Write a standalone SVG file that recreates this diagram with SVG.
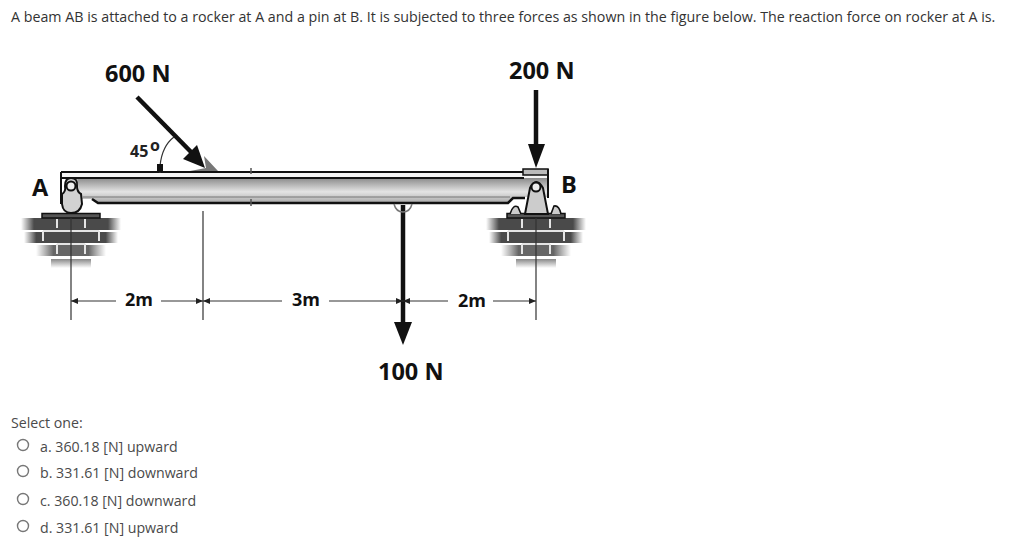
<svg xmlns="http://www.w3.org/2000/svg" width="1024" height="546" viewBox="0 0 1024 546">
<defs>
<style>
.q{font-family:"Open Sans","DejaVu Sans",sans-serif;font-size:14.25px;fill:#333}
.o{font-family:"Open Sans","DejaVu Sans",sans-serif;font-size:14.2px;fill:#4a4a4a}
.l{font-family:"Open Sans","Noto Sans",sans-serif;font-weight:700;fill:#111;font-size:23.500px}
.m{font-family:"Open Sans","Noto Sans",sans-serif;font-weight:700;fill:#111;font-size:18px}
.r{fill:#fff;stroke:#777;stroke-width:1.4}
.dim{stroke:#333;stroke-width:1.2;fill:none}
.dimt{fill:#222}
.force{stroke:#111;stroke-width:4.5;fill:none}
.edge{stroke:#111;stroke-width:2;fill:none}
.mortar{stroke:#e4e4e4;stroke-width:2;fill:none}
</style>
<linearGradient id="web" x1="0" y1="0" x2="0" y2="1">
<stop offset="0" stop-color="#8a8a8a"/><stop offset=".55" stop-color="#e4e4e4"/><stop offset="1" stop-color="#a8a8a8"/>
</linearGradient>
<linearGradient id="row" x1="0" y1="0" x2="1" y2="0">
<stop offset="0" stop-color="#555" stop-opacity="0"/><stop offset=".13" stop-color="#4a4a4a"/><stop offset=".87" stop-color="#4a4a4a"/><stop offset="1" stop-color="#555" stop-opacity="0"/>
</linearGradient>
<linearGradient id="row2" x1="0" y1="0" x2="1" y2="0">
<stop offset="0" stop-color="#777" stop-opacity="0"/><stop offset=".25" stop-color="#666"/><stop offset=".75" stop-color="#666"/><stop offset="1" stop-color="#777" stop-opacity="0"/>
</linearGradient>
<linearGradient id="under" x1="0" y1="0" x2="0" y2="1">
<stop offset="0" stop-color="#888"/><stop offset="1" stop-color="#888" stop-opacity="0"/>
</linearGradient>
<g id="ground">
<rect x="-50" y="0" width="100" height="12" fill="url(#row)"/>
<rect x="-47" y="14" width="94" height="11" fill="url(#row)"/>
<rect x="-35" y="27" width="70" height="11" fill="url(#row2)"/>
<rect x="-20" y="41" width="40" height="9" fill="url(#under)"/>
<path class="mortar" d="M-14 1v9M14 1v9M-28 13v10M28 13v10M-28 13h56M-14 26h28M-14 26v10M14 26v10"/>
</g>
</defs>
<rect width="1024" height="546" fill="#fff"/>
<g id="question">
<text class="q" x="11" y="22">A beam AB is attached to a rocker at A and a pin at B. It is subjected to three forces as shown in the figure below. The reaction force on rocker at A is.</text>
</g>
<g id="support-A">
<use href="#ground" x="71" y="218"/>
<rect x="42" y="213.500" width="58" height="4.500" fill="#555" stroke="#111" stroke-width="1.500"/>
</g>
<g id="support-B">
<use href="#ground" x="536" y="218"/>
<rect x="507" y="213.500" width="58" height="4.500" fill="#555" stroke="#111" stroke-width="1.500"/>
</g>
<g id="beam">
<path d="M77 178H547V197H513L508 203H98L93 199H80Z" fill="url(#web)"/>
<rect x="61" y="172" width="487" height="6" fill="#f4f4f4"/>
<path class="edge" d="M61 172H524M61 178H524M61 172V204"/>
<path d="M92 199L98 203H508L513 198H525" stroke="#111" stroke-width="2.500" fill="none"/>
<path d="M83 197H510" stroke="#777" stroke-width="1" fill="none"/>
<path d="M523 169H548V175H523Z" fill="#bbb" stroke="#111" stroke-width="1.5"/>
<path class="edge" d="M548 169V198"/>
<path d="M251 168V174M251 199V206" stroke="#555" stroke-width="1.500"/>
</g>
<g id="rocker-A">
<path d="M62 204V194Q66 192 65 186Q65 178 71 178Q78 178 77 186Q77 192 81 194L82 204Q80 213 71 213Q63 213 62 204Z" fill="#d2d2d2" stroke="#111" stroke-width="2"/>
<circle cx="71" cy="186" r="4.500" fill="#eee" stroke="#111" stroke-width="2"/>
</g>
<g id="pin-B">
<path d="M525 214L530 188Q536 176 543 188L548 214Z" fill="#ccc" stroke="#111" stroke-width="2"/>
<circle cx="536" cy="187" r="4.500" fill="#eee" stroke="#111" stroke-width="2"/>
<path d="M510 214Q513 204 518 207L521 214M551 214L554 206Q559 205 561 214" fill="#ccc" stroke="#111" stroke-width="1.6"/>
</g>
<g id="labels">
<text class="l" x="105" y="81.500">600 N</text>
<text class="l" x="509" y="78.500">200 N</text>
<text class="l" x="378" y="379.500">100 N</text>
<text class="l" x="32" y="196">A</text>
<text class="l" x="561" y="193">B</text>
<text class="m" x="125" y="306">2m</text>
<text class="m" x="292" y="306">3m</text>
<text class="m" x="458" y="307">2m</text>
<text x="130" y="157" font-family="'Open Sans',sans-serif" font-weight="700" font-size="16" fill="#222">45</text>
<text x="150" y="151" font-family="'Open Sans',sans-serif" font-weight="700" font-size="16" fill="#222">o</text>
</g>
<g id="connectors">
<path class="force" d="M137 97L193 154"/>
<path d="M205 168L183 159L197 145Z" fill="#111"/>
<path d="M190 171L206 168L204 156L218 171Z" fill="#777"/>
<path class="force" d="M536 90V146"/>
<path d="M536 168L528 144H545Z" fill="#111"/>
<path class="force" d="M403 205V325"/>
<path d="M403 345L394 322H412Z" fill="#111"/>
<path d="M394 204Q396 212 403 212Q410 212 412 204" fill="none" stroke="#777" stroke-width="1.5"/>
<path class="dim" d="M160 173V166Q162 146 174 137"/>
<path d="M157 164H163V172H157Z" fill="#111"/>
<path class="dim" d="M71 218V320M203 211V320M536 218V320"/>
<path class="dim" d="M71 301H116M161 301H203M203 301H282M329 301H403M403 301H448M493 301H536"/>
<path class="dimt" d="M71 301l7-3v6ZM203 301l-7-3v6ZM203 301l7-3v6ZM403 301l-7-3v6ZM403 301l7-3v6ZM536 301l-7-3v6Z"/>
</g>
<g id="answers">
<text class="o" x="11" y="428">Select one:</text>
<circle class="r" cx="23" cy="445" r="5.500"/>
<text class="o" x="40" y="451.500">a. 360.18 [N] upward</text>
<circle class="r" cx="23" cy="471" r="5.500"/>
<text class="o" x="40" y="477.500">b. 331.61 [N] downward</text>
<circle class="r" cx="23" cy="499" r="5.500"/>
<text class="o" x="40" y="505.500">c. 360.18 [N] downward</text>
<circle class="r" cx="23" cy="526" r="5.500"/>
<text class="o" x="40" y="533">d. 331.61 [N] upward</text>
</g>
</svg>
